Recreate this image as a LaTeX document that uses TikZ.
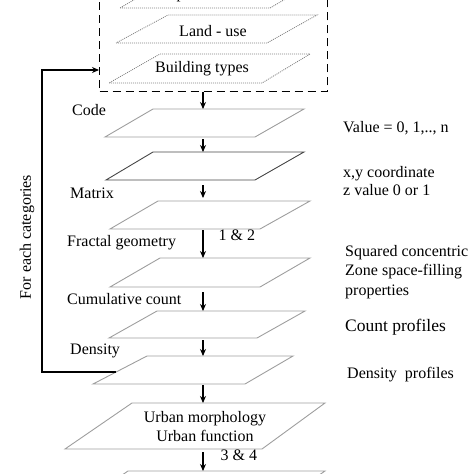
\documentclass[tikz,border=0pt]{standalone}
\usepackage{fontspec}
\setmainfont{Liberation Serif}
\usetikzlibrary{arrows.meta}
\tikzset{
  lbl/.style={font=\fontsize{16}{19}\selectfont, inner sep=0pt},
  biglbl/.style={font=\fontsize{17.5}{20}\selectfont, inner sep=0pt},
  plane/.style={draw=black!38, line width=0.9pt},
  darkplane/.style={draw=black!72, line width=0.9pt},
  dotplane/.style={draw=black!50, line width=0.8pt, dash pattern=on 1pt off 1pt},
  arr/.style={line width=1.1pt, -{Stealth[length=7pt,width=6pt]}},
  loopline/.style={line width=1.2pt, -{Stealth[length=7pt,width=6pt]}},
  dashbox/.style={draw, line width=1.2pt, dash pattern=on 8pt off 5pt, inner sep=0pt},
  anchorbox/.style={inner sep=0pt, outer sep=0pt},
}
% #1 name, #2 style, #3 bottom-left x, #4 bottom-right x, #5 top-left x, #6 top-right x, #7 top y, #8 bottom y
\newcommand{\plg}[8]{%
  \draw[#2] (#3,#8) -- (#4,#8) -- (#6,#7) -- (#5,#7) -- cycle;
  \node[anchorbox, minimum width={(#6-#3)*1pt}, minimum height={(#8-#7)*1pt}] (#1) at ({(#3+#6)/2},{(#7+#8)/2}) {};
}
\begin{document}
\begin{tikzpicture}[x=1pt,y=-1pt]
\useasboundingbox (0,0) rectangle (474,474);
\clip (0,0) rectangle (474,474);
\coordinate (ax) at (203,0);

% dashed input box
\node[dashbox, minimum width=228pt, minimum height=122pt, anchor=south west] (box) at (99,92) {};
\plg{p0}{dotplane}{120}{270}{168}{318}{-20}{8}
\node[lbl, anchor=base] (t0) at (194.5,-1.5) {Population};
\plg{p1}{dotplane}{116}{267}{168}{317}{15}{43}
\node[lbl] (t1) at (213,31) {Land - use};
\plg{p2}{dotplane}{109}{262}{160}{310}{54}{83}
\node[lbl] (t2) at (202,69) {Building types};

% layers
\plg{p3}{plane}{105}{255}{153}{304}{109}{137}
\plg{p4}{darkplane}{106}{255}{153}{304}{152}{180}
\plg{p5}{plane}{110}{260}{158}{310}{201}{229}
\plg{p6}{plane}{110}{260}{160}{310}{258}{287}
\plg{p7}{plane}{109}{257}{157}{305}{311}{338}
\plg{p8}{plane}{93}{245}{147}{293}{356}{384}
\plg{p9}{plane}{65}{262}{132}{325}{403}{449}
\node[lbl, align=center] (t9) at (205,427) {Urban morphology\\Urban function};
\plg{p10}{plane}{61}{258}{128}{325}{471}{517}

% left labels
\node[lbl, anchor=west] (lcode) at (72,110) {Code};
\node[lbl, anchor=west] (lmat) at (70,193) {Matrix};
\node[lbl, anchor=west] (lfrac) at (67,243) {Fractal geometry};
\node[lbl, anchor=west] (lcum) at (67,299) {Cumulative count};
\node[lbl, anchor=west] (lden) at (70,351) {Density};

% right labels
\node[lbl, anchor=west] (rval) at (343,128) {Value = 0, 1,.., n};
\node[lbl, anchor=west, align=left, font=\fontsize{16}{18.5}\selectfont] (rxy) at (343,181) {x,y coordinate\\z value 0 or 1};
\node[lbl, anchor=west, align=left, font=\fontsize{16}{19.5}\selectfont] (rsq) at (345,272) {Squared concentric\\Zone space-filling\\properties};
\node[biglbl, anchor=west] (rcount) at (345,327) {Count profiles};
\node[lbl, anchor=west] (rdens) at (347,375) {Density\ \ profiles};

% arrows
\draw[arr] (box.south -| ax) -- (p3.north -| ax);
\draw[arr, shorten <=2pt] (p3.south -| ax) -- (p4.north -| ax);
\draw[arr, shorten <=5pt, shorten >=3pt] (p4.south -| ax) -- (p5.north -| ax);
\draw[arr, shorten <=1pt] (p5.south -| ax) -- (p6.north -| ax) node[lbl, pos=0.2, anchor=west, xshift=15pt] (n12) {1 \& 2};
\draw[arr, shorten <=5pt] (p6.south -| ax) -- (p7.north -| ax);
\draw[arr, shorten <=2pt] (p7.south -| ax) -- (p8.north -| ax);
\draw[arr, shorten <=1pt] (p8.south -| ax) -- (p9.north -| ax);
\draw[arr, shorten <=3pt] (p9.south -| ax) -- (p10.north -| ax) node[lbl, pos=0.3, anchor=west, xshift=17pt] (n34) {3 \& 4};

% feedback loop
\coordinate (loopstart) at (116,372);
\draw[loopline] (loopstart) -- (42,372) |- (box.west |- 0,70);
\node[lbl, rotate=90] (lfor) at (27,237) {For each categories};
\end{tikzpicture}
\end{document}
